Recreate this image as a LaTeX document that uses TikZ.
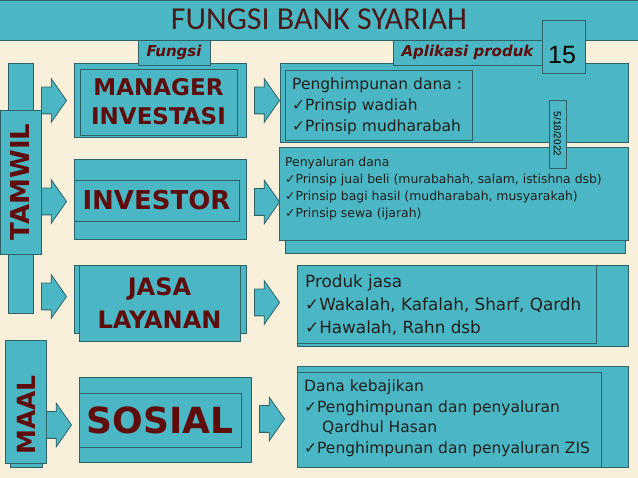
\documentclass[tikz,border=0pt]{standalone}
\usepackage{fontspec}
\setmainfont{DejaVu Sans}
\newfontfamily\ttl{Carlito}
\newfontfamily\arl{Liberation Sans}
\usetikzlibrary{shapes.arrows}
\definecolor{tosca}{HTML}{4BB7C4}
\definecolor{rim}{HTML}{2F6266}
\definecolor{krem}{HTML}{F8F0DA}
\definecolor{merah}{HTML}{5E0C0C}
\definecolor{judul}{HTML}{4A1A1A}
\definecolor{teks}{HTML}{1E1E1E}
\newcommand{\ukuran}[2]{\fontsize{#1}{#2}\selectfont}
\newcommand{\cek}{✓}

\tikzset{
  kotak/.style={draw=rim, fill=tosca, line width=0.8pt, inner sep=0pt},
  tebal/.style={font=\bfseries, text=merah, align=center},
  isi/.style={text=teks, align=left, inner sep=0pt, anchor=west},
  panah/.style={single arrow, draw=rim, fill=tosca, line width=0.8pt,
    minimum height=25pt, inner xsep=0pt, inner ysep=13pt,
    single arrow head extend=8.5pt, single arrow tip angle=110, anchor=tip},
}

\begin{document}
\begin{tikzpicture}[x=1pt, y=-1pt]
  \useasboundingbox (0,0) rectangle (638,478);
  \fill[krem] (0,0) rectangle (638,478);

  % judul
  \node[kotak, minimum width=640pt, minimum height=40pt] (bar) at (319,20) {};
  \node[font=\ttl\ukuran{32}{32}, text=judul] (jdl) at (319,19) {FUNGSI BANK SYARIAH};

  % tamwil dan maal
  \node[kotak, minimum width=25pt, minimum height=250pt] (tamB) at (20.5,188) {};
  \node[kotak, minimum width=144pt, minimum height=41pt, rotate=90,
    tebal, font=\bfseries\ukuran{26}{26}] (tam) at (20.5,182) {TAMWIL};
  \node[kotak, minimum width=32pt, minimum height=117pt] (maalB) at (26,408.5) {};
  \node[kotak, minimum width=41pt, minimum height=123pt] (maalF) at (25.5,401.5) {};
  \node[tebal, font=\bfseries\ukuran{25}{25}, rotate=90] (maal) at (26,415) {MAAL};

  % panah
  \node[panah] (p1) at (67,100.5) {};
  \node[panah] (p2) at (67,201.5) {};
  \node[panah] (p3) at (67,296.5) {};
  \node[panah] (p4) at (72,425) {};
  \node[panah] (q1) at (280,100.5) {};
  \node[panah] (q2) at (280,202) {};
  \node[panah] (q3) at (280,302.5) {};
  \node[panah] (q4) at (285,419) {};

  % fungsi
  \node[kotak, minimum width=172pt, minimum height=74pt] (mgrB) at (160,100) {};
  \node[kotak, minimum width=157pt, minimum height=66pt,
    tebal, font=\bfseries\ukuran{23}{29}] (mgr) at (158.5,102) {MANAGER\\INVESTASI};
  \node[kotak, minimum width=172pt, minimum height=80pt] (invB) at (160,199) {};
  \node[kotak, minimum width=165pt, minimum height=41pt,
    tebal, font=\bfseries\ukuran{26}{30}] (inv) at (156.5,200.5) {INVESTOR};
  \node[kotak, minimum width=172pt, minimum height=68pt] (jsB) at (160,299) {};
  \node[kotak, minimum width=161pt, minimum height=76pt,
    tebal, font=\bfseries\ukuran{24}{33}] (js) at (159.5,303) {JASA\\LAYANAN};
  \node[kotak, minimum width=172pt, minimum height=85pt] (sosB) at (165,419.5) {};
  \node[kotak, minimum width=162pt, minimum height=54pt,
    tebal, font=\bfseries\ukuran{36}{36}] (sos) at (160,420) {SOSIAL};

  % aplikasi produk
  \node[kotak, minimum width=348pt, minimum height=79pt] (hmpB) at (454,102.5) {};
  \node[kotak, minimum width=187pt, minimum height=70pt] (hmpF) at (378.5,105) {};
  \node[isi, font=\ukuran{15.5}{21}] (hmp) at (292,106)
    {Penghimpunan dana :\\\cek Prinsip wadiah\\\cek Prinsip mudharabah};
  \node[kotak, minimum width=340pt, minimum height=106pt] (slrB) at (455,200) {};
  \node[kotak, minimum width=349pt, minimum height=93pt] (slrF) at (453.5,193.5) {};
  \node[isi, font=\ukuran{12.4}{17}] (slr) at (285,189)
    {Penyaluran dana\\\cek Prinsip jual beli (murabahah, salam, istishna dsb)\\
     \cek Prinsip bagi hasil (mudharabah, musyarakah)\\\cek Prinsip sewa (ijarah)};
  \node[kotak, minimum width=331pt, minimum height=81pt] (jsaB) at (462.5,305.5) {};
  \node[kotak, minimum width=299pt, minimum height=78pt] (jsaF) at (446.5,304) {};
  \node[isi, font=\ukuran{16.8}{23}] (jsa) at (305,305)
    {Produk jasa\\\cek Wakalah, Kafalah, Sharf, Qardh\\\cek Hawalah, Rahn dsb};
  \node[kotak, minimum width=331pt, minimum height=101pt] (kbjB) at (462.5,416.5) {};
  \node[kotak, minimum width=304pt, minimum height=95pt] (kbjF) at (449,419.5) {};
  \node[isi, font=\ukuran{15.5}{20.5}] (kbj) at (304,418)
    {Dana kebajikan\\\cek Penghimpunan dan penyaluran\\
     \hspace*{18pt}Qardhul Hasan\\\cek Penghimpunan dan penyaluran ZIS};

  % kepala kolom
  \node[kotak, minimum width=72pt, minimum height=25pt, text=merah,
    font=\bfseries\itshape\ukuran{15}{15}] (fgs) at (174,52.5) {Fungsi};
  \node[kotak, minimum width=149pt, minimum height=25pt, text=merah,
    font=\bfseries\itshape\ukuran{15}{15}] (apl) at (467.5,52.5) {Aplikasi produk};
  \node[kotak, minimum width=43pt, minimum height=53pt] (hlm) at (563.5,46.5) {};
  \node[font=\arl\ukuran{25}{25}] (nom) at (562,55.5) {15};
  \node[kotak, minimum width=68pt, minimum height=17pt, rotate=-90,
    font=\arl\ukuran{10}{10}] (tgl) at (557.5,134) {5/18/2022};
\end{tikzpicture}
\end{document}
